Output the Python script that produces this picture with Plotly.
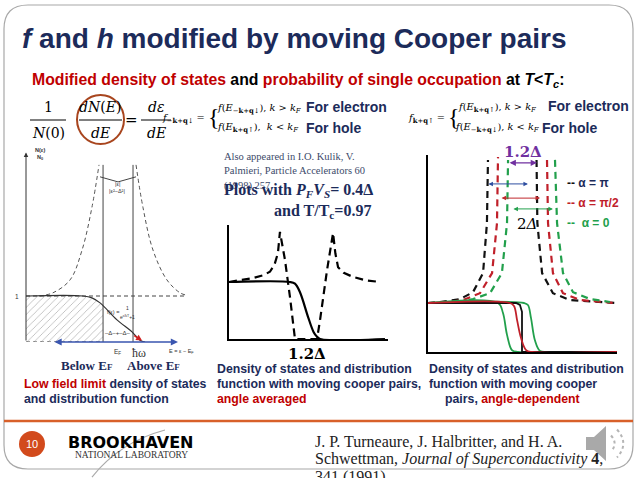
import plotly.graph_objects as go

W, H = 638, 478
NAVY = "#1c2b5a"
RED = "#c00000"
SANS = "Liberation Sans, Arial, sans-serif"
SERIF = "Liberation Serif, Times New Roman, serif"
MATH = "DejaVu Serif, serif"

# ---- panel A: low field limit (energy in units of gap, DOS in units of N0)
a_dos_left_e = [-5.2, -4.27, -3.13, -2.33, -1.67, -1.2]
a_dos_left_n = [1.0, 1.07, 1.35, 2.0, 2.93, 3.85]
a_dos_right_e = [1.27, 1.73, 2.4, 3.33, 4.2, 4.6]
a_dos_right_n = [3.85, 2.93, 2.0, 1.35, 1.07, 1.02]
a_level_e = [-6.07, 4.53]
a_level_n = [1.0, 1.0]
a_f_e = [-6.07, -2.27, -1.67, -1.13, 0.0, 1.0, 1.53, 1.87]
a_f_val = [1.0, 1.0, 0.96, 0.85, 0.48, 0.22, 0.04, 0.0]
a_hatch_e = [-6.07, -2.27, -1.67, -1.13, -0.93]
a_hatch_f = [1.0, 1.0, 0.96, 0.85, 0.79]
a_gap_edges = [-0.93, 1.07]
a_gap_top = 3.85
a_vee_e = [-1.13, 0.07, 1.27]
a_vee_n = [3.59, 3.48, 3.59]

# ---- panel B: angle averaged, PF*Vs = 0.4 gap, T/Tc = 0.97
b_f_e = [-4.67, -1.02, -0.72, -0.42, 0.06, 0.4, 0.6, 0.78, 4.67]
b_f_val = [1.0, 1.0, 0.97, 0.82, 0.39, 0.12, 0.04, 0.0, 0.0]
b_dos_e = [-4.67, -4.0, -3.23, -2.6, -2.22, -1.95, -1.74, -1.62, -1.32, -1.02,
           -0.72, 0.6, 0.78, 1.2, 1.56, 1.7, 1.86, 2.2, 2.75, 3.5, 4.37]
b_dos_n = [1.0, 1.03, 1.07, 1.12, 1.18, 1.3, 1.51, 1.88, 1.39, 0.74,
           0.0, 0.0, 0.33, 1.21, 1.86, 1.5, 1.26, 1.16, 1.09, 1.03, 1.0]
b_span = [-0.6, 0.66]

# ---- panel C: angle dependent (alpha = pi, pi/2, 0)
c_dos = {
    "pi": ([-4.59, -4.0, -3.02, -2.39, -1.90, -1.71, -1.66],
           [1.0, 1.02, 1.08, 1.22, 1.61, 2.63, 3.92],
           [0.71, 0.75, 0.98, 1.51, 2.34, 4.54],
           [3.92, 2.63, 1.61, 1.2, 1.06, 1.0]),
    "pi/2": ([-4.59, -4.0, -2.88, -2.05, -1.46, -1.22, -1.17],
             [1.0, 1.0, 1.06, 1.2, 1.61, 2.63, 3.98],
             [1.22, 1.27, 1.51, 2.0, 2.83, 4.54],
             [3.92, 2.63, 1.61, 1.2, 1.06, 1.0]),
    "0": ([-3.17, -2.39, -1.56, -0.98, -0.73, -0.68],
          [1.0, 1.08, 1.2, 1.61, 2.63, 3.92],
          [1.61, 1.71, 2.0, 2.49, 3.32, 4.29],
          [3.92, 2.63, 1.61, 1.22, 1.08, 1.02]),
}
c_f = {
    "0a": ([-4.59, -1.17, -0.93, -0.73, -0.49, -0.2, 4.63],
           [1.0, 1.0, 0.8, 0.35, 0.04, 0.0, 0.0]),
    "0b": ([-4.59, 0.1, 0.29, 0.44, 0.63, 0.88, 1.27, 4.63],
           [1.0, 1.0, 0.96, 0.69, 0.24, 0.02, 0.0, 0.0]),
    "pi": ([-4.59, -0.29, -0.1, 0.0, 0.0, 4.63],
           [1.0, 1.0, 0.96, 0.82, 0.0, 0.0]),
    "pi/2": ([-4.59, -0.59, -0.39, -0.24, -0.05, 0.2, 0.49, 4.63],
             [1.0, 1.0, 0.94, 0.65, 0.29, 0.04, 0.0, 0.0]),
}
c_span_12 = ([-0.68, 0.73], 3.86)
c_span_2 = {"pi": ([-1.71, 0.29], 3.43), "pi/2": ([-1.07, 0.88], 3.14), "0": ([-0.49, 1.51], 2.92)}
c_colors = {"pi": "#111111", "pi/2": "#c0202a", "0": "#22a04c"}
c_arrow_colors = {"pi": "#2e4ea0", "pi/2": "#c0282d", "0": "#22a04c"}

fig = go.Figure()
annotations = []
shapes = []


def P(x, y):
    return f"{x / W:.5f},{1 - y / H:.5f}"


def dom(x0, x1, y0, y1):
    return [x0 / W, x1 / W], [1 - y1 / H, 1 - y0 / H]


def text(x, y, s, size=12, color=NAVY, family=SANS, xanchor="left", yanchor="middle"):
    annotations.append(dict(x=x / W, y=1 - y / H, xref="paper", yref="paper", text=s,
                            showarrow=False, xanchor=xanchor, yanchor=yanchor,
                            font=dict(size=size, color=color, family=family)))


def line(x, y, ax, color, width, dash="solid", shape="linear", **kw):
    fig.add_trace(go.Scatter(x=x, y=y, xaxis="x" + ax, yaxis="y" + ax, mode="lines",
                             line=dict(color=color, width=width, dash=dash, shape=shape),
                             hoverinfo="skip", showlegend=False, **kw))


def span(ax, xs, y, color, width=1.2, size=1.0, both=True):
    r = "x" + ax, "y" + ax
    annotations.append(dict(xref=r[0], yref=r[1], axref=r[0], ayref=r[1], x=xs[1], y=y,
                            ax=xs[0], ay=y, text="", showarrow=True, arrowhead=2,
                            arrowside="end+start" if both else "end", arrowsize=size,
                            arrowwidth=width, arrowcolor=color, standoff=0, startstandoff=0))


# ---------------- panel A
line(a_hatch_e, a_hatch_f, "", "#555", 0, fill="tozeroy", fillcolor="white",
     fillpattern=dict(shape="/", fgcolor="#666", bgcolor="white", size=5, solidity=0.15))
line(a_level_e, a_level_n, "", "#444", 1, dash="4px,3px")
line([a_level_e[0], a_gap_edges[0]], [0, 0], "", "#444", 1, dash="4px,3px")
line(a_dos_left_e, a_dos_left_n, "", "#555", 1, dash="4px,3px", shape="spline")
line(a_dos_right_e, a_dos_right_n, "", "#555", 1, dash="4px,3px", shape="spline")
line([a_gap_edges[0], a_gap_edges[0], None, a_gap_edges[1], a_gap_edges[1]],
     [0, a_gap_top, None, 0, a_gap_top], "", "#444", 1)
line(a_vee_e, a_vee_n, "", "#444", 1)
line(a_f_e, a_f_val, "", "#333", 1.2, shape="spline")
annotations.append(dict(xref="x", yref="y", axref="x", ayref="y", x=a_level_e[0], y=4.12,
                        ax=a_level_e[0], ay=0, text="", showarrow=True, arrowhead=2,
                        arrowsize=0.9, arrowwidth=1, arrowcolor="#333"))
span("", [-4.27, 4.07], 0, "#3a56b0", width=1.6, size=0.9)
annotations.append(dict(xref="x", yref="y", axref="x", ayref="y", x=1.67, y=0.03,
                        ax=1.05, ay=0.16, text="", showarrow=True, arrowhead=2,
                        arrowsize=0.8, arrowwidth=1.5, arrowcolor="#d02020"))

# ---------------- panel B
line(b_dos_e, b_dos_n, "2", "black", 2.2, dash="8px,5px")
line(b_f_e, b_f_val, "2", "black", 2.2, shape="spline")
span("2", b_span, -0.09, "#333", width=1, size=0.8)

# ---------------- panel C
for key in ["pi", "pi/2", "0"]:
    le, ln, re_, rn = c_dos[key]
    line(le, ln, "3", c_colors[key], 2.2, dash="7px,5px")
    line(re_, rn, "3", c_colors[key], 2.2, dash="7px,5px")
for key, col in [("0a", c_colors["0"]), ("0b", c_colors["0"]), ("pi", c_colors["pi"]),
                 ("pi/2", c_colors["pi/2"])]:
    fx, fy = c_f[key]
    line(fx, fy, "3", col, 1.8, shape="spline" if key != "pi" else "linear")
span("3", c_span_12[0], c_span_12[1], "#7030a0", width=1.4, size=0.9)
for key in ["pi", "pi/2", "0"]:
    xs, y = c_span_2[key]
    span("3", xs, y, c_arrow_colors[key], width=1, size=0.9)

# ---------------- slide decoration
r = 24
x0, y0, x1, y1 = 4, 5, 633, 469
shapes.append(dict(type="path", xref="paper", yref="paper", line=dict(color="#a8a8a8", width=1.2),
                   path=(f"M {P(x0 + r, y0)} L {P(x1 - r, y0)} Q {P(x1, y0)} {P(x1, y0 + r)} "
                         f"L {P(x1, y1 - r)} Q {P(x1, y1)} {P(x1 - r, y1)} L {P(x0 + r, y1)} "
                         f"Q {P(x0, y1)} {P(x0, y1 - r)} L {P(x0, y0 + r)} Q {P(x0, y0)} {P(x0 + r, y0)} Z")))
shapes.append(dict(type="line", xref="paper", yref="paper", x0=4 / W, x1=633 / W,
                   y0=1 - 421 / H, y1=1 - 421 / H, line=dict(color="#d8602a", width=2.5)))
shapes.append(dict(type="circle", xref="paper", yref="paper", x0=19 / W, x1=45 / W,
                   y0=1 - 457 / H, y1=1 - 431 / H, fillcolor="#d24a1c", line=dict(width=0)))
# fraction bars and circle around dN/dE
for bx0, bx1 in [(30, 66), (79, 122), (141, 171)]:
    shapes.append(dict(type="line", xref="paper", yref="paper", x0=bx0 / W, x1=bx1 / W,
                       y0=1 - 120 / H, y1=1 - 120 / H, line=dict(color="black", width=1)))
shapes.append(dict(type="circle", xref="paper", yref="paper", x0=77 / W, x1=124 / W,
                   y0=1 - 144 / H, y1=1 - 95 / H, line=dict(color="#a8451e", width=2)))
# logo swoosh
shapes.append(dict(type="path", xref="paper", yref="paper", line=dict(color="#aaa", width=1.2),
                   path=f"M {P(92, 477)} Q {P(120, 442)} {P(165, 430)}"))
# speaker icon
shapes.append(dict(type="path", xref="paper", yref="paper", fillcolor="#a9a9a9",
                   line=dict(width=0),
                   path=(f"M {P(586, 437)} L {P(594, 437)} L {P(606, 426)} L {P(606, 461)} "
                         f"L {P(594, 450)} L {P(586, 450)} Z")))
for wx, wr in [(611, 8), (617, 14)]:
    shapes.append(dict(type="path", xref="paper", yref="paper",
                       line=dict(color="#b5b5b5", width=2, dash="dot"),
                       path=f"M {P(wx, 443.5 - wr)} Q {P(wx + wr * 0.9, 443.5)} {P(wx, 443.5 + wr)}"))

# ---------------- texts
text(20, 38, "<b><i>f</i> and <i>h</i> modified by moving Cooper pairs</b>", 28, NAVY)
text(30, 80, f'<b><span style="color:{RED}">Modified density of states</span> and '
             f'<span style="color:{RED}">probability of single occupation</span> at '
             f'<i>T</i>&lt;<i>T<sub>c</sub></i>:</b>', 15.8, "black")

text(48, 107, "1", 14, "black", MATH, "center")
text(48, 133, "<i>N</i>(0)", 14, "black", MATH, "center")
text(100, 107, "<i>dN</i>(<i>E</i>)", 14, "black", MATH, "center")
text(100, 133, "<i>dE</i>", 14, "black", MATH, "center")
text(131, 120, "=", 15, "black", MATH, "center")
text(156, 107, "<i>dε</i>", 14, "black", MATH, "center")
text(156, 133, "<i>dE</i>", 14, "black", MATH, "center")

FS = 9.8
text(207, 118, "<i>f</i><sub>−<b>k</b>+<b>q</b>↓</sub> =", FS, "black", MATH, "right")
text(206, 117, "{", 24, "black", SERIF)
text(215, 108, "<i>f</i>(<i>E</i><sub>−<b>k</b>+<b>q</b>↓</sub>), <i>k</i> &gt; <i>k<sub>F</sub></i>", FS, "black", MATH)
text(215, 127, "<i>f</i>(<i>E</i><sub><b>k</b>+<b>q</b>↑</sub>),  <i>k</i> &lt; <i>k<sub>F</sub></i>", FS, "black", MATH)
text(304, 107, "<b>For electron</b>", 14, NAVY)
text(304, 128, "<b>For hole</b>", 14, NAVY)
text(447, 118, "<i>f</i><sub><b>k</b>+<b>q</b>↑</sub> =", FS, "black", MATH, "right")
text(446, 117, "{", 24, "black", SERIF)
text(456, 107, "<i>f</i>(<i>E</i><sub><b>k</b>+<b>q</b>↑</sub>), <i>k</i> &gt; <i>k<sub>F</sub></i>", FS, "black", MATH)
text(453, 127, "<i>f</i>(<i>E</i><sub>−<b>k</b>+<b>q</b>↓</sub>), <i>k</i> &lt; <i>k<sub>F</sub></i>", FS, "black", MATH)
text(546, 106, "<b>For electron</b>", 14, NAVY)
text(540, 128, "<b>For hole</b>", 14, NAVY)

# panel A labels
text(40, 150, "<b>N(ε)</b>", 5.5, "#333", SANS, "center")
text(40, 157, "<b>N<sub>0</sub></b>", 5.5, "#333", SANS, "center")
text(21, 296, "1", 6.5, "#333", SANS, "right")
text(117, 184, "|ε|", 5.5, "#333", SANS, "center")
text(117, 191, "|ε²−Δ²|", 5.5, "#333", SANS, "center")
text(105, 312, "f(ε) =", 5.5, "#333", SANS)
text(127, 308, "1", 5, "#333", SANS, "center")
text(127, 317, "e<sup>ε/kT</sup>+1", 5, "#333", SANS, "center")
text(118, 333, "–Δ–+–Δ–", 6, "#333", SANS, "center")
text(117, 352, "E<sub>F</sub>", 6.5, "#333", SANS, "center")
text(139, 353, "ħω", 12, "#333", SERIF, "center")
text(181, 351, "E = ε − E<sub>F</sub>", 5.5, "#333", SANS, "center")
text(87, 365, '<b>Below E<span style="font-size:9px">F</span></b>', 13, NAVY, SERIF, "center")
text(153, 365, '<b>Above E<span style="font-size:9px">F</span></b>', 13, NAVY, SERIF, "center")
text(22, 384, f'<b><span style="color:{RED}">Low field limit</span> density of states</b>', 12.3, NAVY)
text(22, 399, "<b>and distribution function</b>", 12.3, NAVY)

# panel B labels
text(222, 156, "Also appeared in I.O. Kulik, V.", 10.5, "#3c4a6a", SERIF)
text(222, 171, "Palmieri, Particle Accelerators 60", 10.5, "#3c4a6a", SERIF)
text(222, 186, "(1998) 257.", 10.5, "#3c4a6a", SERIF)
text(222, 191, "<b>Plots with <i>P<sub>F</sub>V<sub>S</sub></i>= 0.4Δ</b>", 16, NAVY, SERIF)
text(272, 212, "<b>and T/T<sub>c</sub>=0.97</b>", 16, NAVY, SERIF)
text(307, 354, "<b>1.2Δ</b>", 15, "black", MATH, "center")
text(215, 369, "<b>Density of states and distribution</b>", 12.3, NAVY)
text(215, 384, "<b>function with moving cooper pairs,</b>", 12.3, NAVY)
text(215, 399, "<b>angle averaged</b>", 12.3, RED)

# panel C labels
text(523, 152, "<b>1.2Δ</b>", 15, "#7030a0", MATH, "center")
text(527, 224, "2<i>Δ</i>", 15, "black", MATH, "center")
text(565, 183, '<b><span style="color:#111">--</span> α = π</b>', 12, NAVY)
text(565, 203, "<b>-- α = π/2</b>", 12, "#c0202a")
text(565, 223, "<b>--  α = 0</b>", 12, "#22a04c")
text(427, 369, "<b>Density of states and distribution</b>", 12.3, NAVY)
text(427, 384, "<b>function with moving cooper</b>", 12.3, NAVY)
text(443, 399, f'<b>pairs, <span style="color:{RED}">angle-dependent</span></b>', 12.3, NAVY)

# footer
text(32, 444, "10", 11, "white", SANS, "center")
text(131, 442, "<b>BROOKHAVEN</b>", 16, "black", "DejaVu Sans, sans-serif", "center")
text(131, 455, "NATIONAL LABORATORY", 9.5, "#333", SERIF, "center")
text(313, 441, "J. P. Turneaure, J. Halbritter, and H. A.", 16, "#222", SERIF)
text(313, 459, "Schwettman, <i>Journal of Superconductivity</i> <b>4</b>,", 16, "#222", SERIF)
text(313, 477, "341 (1991).", 16, "#222", SERIF)

hide = dict(visible=False, fixedrange=True)
show = dict(showline=True, linecolor="black", showgrid=False, zeroline=False,
            showticklabels=False, ticks="", fixedrange=True)
xa, ya = dom(26, 190, 152, 342)
xb, yb = dom(229, 388, 225, 339)
xc, yc = dom(428, 617, 155, 352)
fig.update_layout(
    width=W, height=H, margin=dict(l=0, r=0, t=0, b=0),
    paper_bgcolor="white", plot_bgcolor="rgba(0,0,0,0)", showlegend=False,
    xaxis=dict(domain=xa, range=[-6.07, 4.87], anchor="y", **hide),
    yaxis=dict(domain=ya, range=[0, 4.13], anchor="x", **hide),
    xaxis2=dict(domain=xb, range=[-4.67, 4.85], anchor="y2", linewidth=2, **show),
    yaxis2=dict(domain=yb, range=[0, 2.0], anchor="x2", linewidth=2, **show),
    xaxis3=dict(domain=xc, range=[-4.585, 4.634], anchor="y3", linewidth=1.6, **show),
    yaxis3=dict(domain=yc, range=[0, 4.02], anchor="x3", linewidth=1.6, **show),
    annotations=annotations, shapes=shapes,
)
fig.write_html("out.html", config={"displayModeBar": False},
               post_script="document.body.style.margin='0';")
